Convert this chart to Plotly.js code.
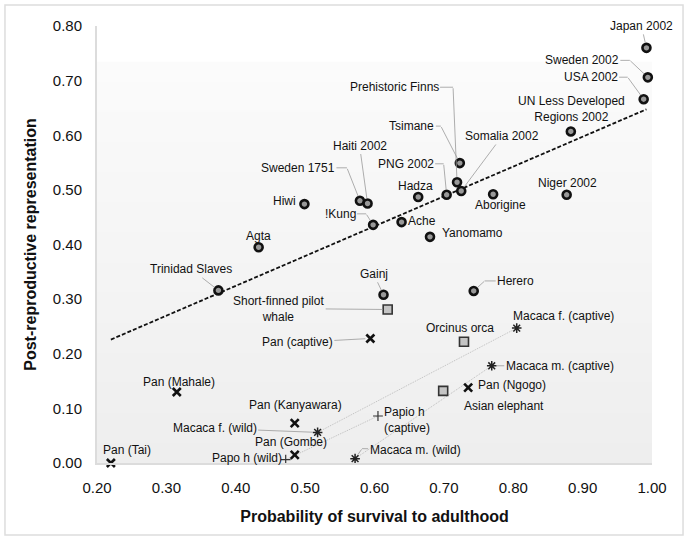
<!DOCTYPE html>
<html>
<head>
<meta charset="utf-8">
<script src="https://cdn.plot.ly/plotly-3.0.1.min.js"></script>
<style>html,body{margin:0;padding:0;background:#fff;}#chart{width:687px;height:540px;}</style>
</head>
<body>
<div id="chart"></div>
<script>
// ---------- data ----------
const humanNames = ["Japan 2002","Sweden 2002","USA 2002","UN Less Developed<br>Regions 2002","Tsimane","Prehistoric Finns","Somalia 2002","PNG 2002","Hadza","Aborigine","Niger 2002","Sweden 1751","Haiti 2002","Hiwi","!Kung","Ache","Yanomamo","Agta","Trinidad Slaves","Gainj","Herero"];
const humanX = [0.992,0.994,0.988,0.883,0.723,0.719,0.725,0.704,0.663,0.771,0.877,0.579,0.590,0.499,0.598,0.639,0.680,0.433,0.375,0.613,0.743];
const humanY = [0.760,0.706,0.666,0.607,0.549,0.514,0.498,0.491,0.487,0.492,0.491,0.480,0.475,0.474,0.436,0.441,0.414,0.395,0.316,0.308,0.315];

const mammalNames = ["Short-finned pilot<br>whale","Orcinus orca","Asian elephant"];
const mammalX = [0.619,0.729,0.699];
const mammalY = [0.281,0.222,0.132];

const panNames = ["Pan (captive)","Pan (Mahale)","Pan (Kanyawara)","Pan (Gombe)","Pan (Tai)","Pan (Ngogo)"];
const panX = [0.594,0.315,0.485,0.485,0.220,0.735];
const panY = [0.228,0.130,0.073,0.015,0.000,0.138];

const macacaNames = ["Macaca f. (wild)","Macaca f. (captive)","Macaca m. (wild)","Macaca m. (captive)"];
const macacaX = [0.518,0.805,0.572,0.769];
const macacaY = [0.056,0.247,0.008,0.178];

const papioNames = ["Papo h (wild)","Papio h<br>(captive)"];
const papioX = [0.472,0.605];
const papioY = [0.006,0.086];

const trendX = [0.220,0.992];
const trendY = [0.226,0.6475];

const xTickVals = [0.2,0.3,0.4,0.5,0.6,0.7,0.8,0.9,1.0];
const yTickVals = [0,0.1,0.2,0.3,0.4,0.5,0.6,0.7,0.8];

// ---------- label placement (pixel offsets from marker, screen coords) ----------
const placement = {
  "Japan 2002": {d:[-5,-22], leader:true},
  "Sweden 2002": {d:[-66,-17], leader:true, knee:[-18,-17]},
  "USA 2002": {d:[-53,-22], leader:true, knee:[-16,-22]},
  "UN Less Developed<br>Regions 2002": {d:[1,-22]},
  "Prehistoric Finns": {d:[-63,-95], leader:true, knee:[-4,-95]},
  "Tsimane": {d:[-48,-37], leader:true, knee:[-19,-37]},
  "Somalia 2002": {d:[41,-55], leader:true},
  "PNG 2002": {d:[-41,-31], leader:true, knee:[-3,-31]},
  "Hadza": {d:[-3,-11]},
  "Aborigine": {d:[7,11]},
  "Niger 2002": {d:[1,-12]},
  "Sweden 1751": {d:[-62,-33], leader:true, knee:[-13,-33]},
  "Haiti 2002": {d:[-8,-58], leader:true},
  "Hiwi": {d:[-20,-3]},
  "!Kung": {d:[-33,-11], leader:true, knee:[-7,-11]},
  "Ache": {d:[20,-1]},
  "Yanomamo": {d:[42,-4]},
  "Agta": {d:[0,-11]},
  "Trinidad Slaves": {d:[-27,-21], leader:true},
  "Gainj": {d:[-10,-21], leader:true},
  "Herero": {d:[42,-10], leader:true, knee:[11,-10]},
  "Short-finned pilot<br>whale": {d:[-109,-1], leader:true},
  "Orcinus orca": {d:[-4,-14]},
  "Asian elephant": {d:[61,15]},
  "Pan (captive)": {d:[-73,4], leader:true},
  "Pan (Mahale)": {d:[2,-10]},
  "Pan (Kanyawara)": {d:[1,-18]},
  "Pan (Gombe)": {d:[-4,-13]},
  "Pan (Tai)": {d:[16,-13]},
  "Pan (Ngogo)": {d:[44,-3]},
  "Macaca f. (wild)": {d:[-103,-4], leader:true},
  "Macaca f. (captive)": {d:[47,-12]},
  "Macaca m. (wild)": {d:[60,-9], leader:true, knee:[7,-10]},
  "Macaca m. (captive)": {d:[68,0], leader:true},
  "Papo h (wild)": {d:[-39,-2]},
  "Papio h<br>(captive)": {d:[29,4], align:'left'}
};

const FONT = "Liberation Sans, Arial, Helvetica, sans-serif";
const annotations = [];
function addLabels(names, xs, ys) {
  names.forEach((n, i) => {
    const p = placement[n];
    if (!p) return;
    const base = {x: xs[i], y: ys[i], xref:'x', yref:'y', font:{family:FONT,size:12,color:'#111'}, align: p.align || 'center'};
    if (!p.leader) {
      annotations.push(Object.assign({}, base, {text:n, showarrow:false, xshift:p.d[0], yshift:-p.d[1]}));
    } else if (!p.knee) {
      annotations.push(Object.assign({}, base, {text:n, showarrow:true, arrowhead:0, arrowwidth:0.8, arrowcolor:'#999', ax:p.d[0], ay:p.d[1], standoff:5}));
    } else {
      annotations.push(Object.assign({}, base, {text:' ', font:{size:1}, borderpad:0, showarrow:true, arrowhead:0, arrowwidth:0.8, arrowcolor:'#999', ax:p.knee[0], ay:p.knee[1], standoff:5}));
      annotations.push(Object.assign({}, base, {text:n, showarrow:true, arrowhead:0, arrowwidth:0.8, arrowcolor:'#999', ax:p.d[0]-p.knee[0], ay:p.d[1]-p.knee[1], xshift:p.knee[0], yshift:-p.knee[1], standoff:0}));
    }
  });
}
addLabels(humanNames, humanX, humanY);
addLabels(mammalNames, mammalX, mammalY);
addLabels(panNames, panX, panY);
addLabels(macacaNames, macacaX, macacaY);
addLabels(papioNames, papioX, papioY);

// connecting lines wild -> captive
function pair(names, xs, ys, a, b) {
  const i = names.indexOf(a), j = names.indexOf(b);
  return {x:[xs[i], xs[j]], y:[ys[i], ys[j]]};
}
const links = [
  pair(macacaNames, macacaX, macacaY, "Macaca f. (wild)", "Macaca f. (captive)"),
  pair(macacaNames, macacaX, macacaY, "Macaca m. (wild)", "Macaca m. (captive)"),
  pair(papioNames, papioX, papioY, "Papo h (wild)", "Papio h<br>(captive)")
];

const traces = [];
links.forEach(l => traces.push({x:l.x, y:l.y, mode:'lines', type:'scatter', line:{color:'#b8b8b8', width:0.9, dash:'1px,1px'}, hoverinfo:'skip', cliponaxis:false}));
traces.push({x:trendX, y:trendY, mode:'lines', type:'scatter', line:{color:'#111', width:1.8, dash:'4px,2px'}, hoverinfo:'skip'});
traces.push({x:humanX, y:humanY, text:humanNames, mode:'markers', type:'scatter', marker:{symbol:'circle', size:8, color:'#999', line:{color:'#111', width:2.6}}, cliponaxis:false});
traces.push({x:mammalX, y:mammalY, text:mammalNames, mode:'markers', type:'scatter', marker:{symbol:'square', size:9, color:'#c4c4c4', line:{color:'#333', width:1.6}}, cliponaxis:false});
traces.push({x:panX, y:panY, text:panNames, mode:'markers', type:'scatter', marker:{symbol:'x-thin', size:8, color:'#111', line:{color:'#111', width:2.6}}, cliponaxis:false});
traces.push({x:macacaX, y:macacaY, text:macacaNames, mode:'markers', type:'scatter', marker:{symbol:'asterisk', size:8, color:'#111', line:{color:'#222', width:1.5}}, cliponaxis:false});
traces.push({x:papioX, y:papioY, text:papioNames, mode:'markers', type:'scatter', marker:{symbol:'cross-thin', size:7, color:'#333', line:{color:'#333', width:1.2}}, cliponaxis:false});

// background gradient bands (paper coords)
const shapes = [];
const N = 40, topWhite = 0.918;
for (let k = 0; k < N; k++) {
  const y0 = topWhite * k / N, y1 = topWhite * (k + 1) / N + 0.002;
  const t = (k + 0.5) / N; // 0 bottom, 1 top
  const v = Math.round(238 + (251 - 238) * t);
  shapes.push({type:'rect', xref:'paper', yref:'paper', x0:0, x1:1, y0:y0, y1:Math.min(y1, topWhite), fillcolor:`rgb(${v},${v},${v})`, line:{width:0}, layer:'below'});
}
// outer frame
shapes.push({type:'rect', xref:'paper', yref:'paper', x0:-0.1658, x1:1.0559, y0:-0.165, y1:1.048, line:{color:'#ddd', width:1.5}, fillcolor:'rgba(0,0,0,0)', layer:'below'});

const layout = {
  width:687, height:540,
  margin:{l:97, r:35, t:26, b:77},
  paper_bgcolor:'#fff', plot_bgcolor:'#fff',
  showlegend:false,
  font:{family:FONT, color:'#111'},
  xaxis:{range:[0.2,1.0], tickvals:xTickVals, tickformat:'.2f', showgrid:false, zeroline:false,
    showline:true, linecolor:'#dcdcdc', linewidth:1.5, ticks:'', ticklabelstandoff:10,
    tickfont:{family:FONT, size:15, color:'#111'},
    title:{text:'Probability of survival to adulthood', font:{family:FONT, size:16, color:'#111', weight:'bold'}, standoff:16}},
  yaxis:{range:[0,0.8], tickvals:yTickVals, tickformat:'.2f', showgrid:false, zeroline:false,
    showline:true, linecolor:'#dcdcdc', linewidth:2, ticks:'', ticklabelstandoff:10,
    tickfont:{family:FONT, size:15, color:'#111'},
    title:{text:'Post-reproductive representation', font:{family:FONT, size:16, color:'#111', weight:'bold'}, standoff:12}},
  annotations: annotations,
  shapes: shapes
};

Plotly.newPlot('chart', traces, layout, {displayModeBar:false, staticPlot:true});
</script>
</body>
</html>
